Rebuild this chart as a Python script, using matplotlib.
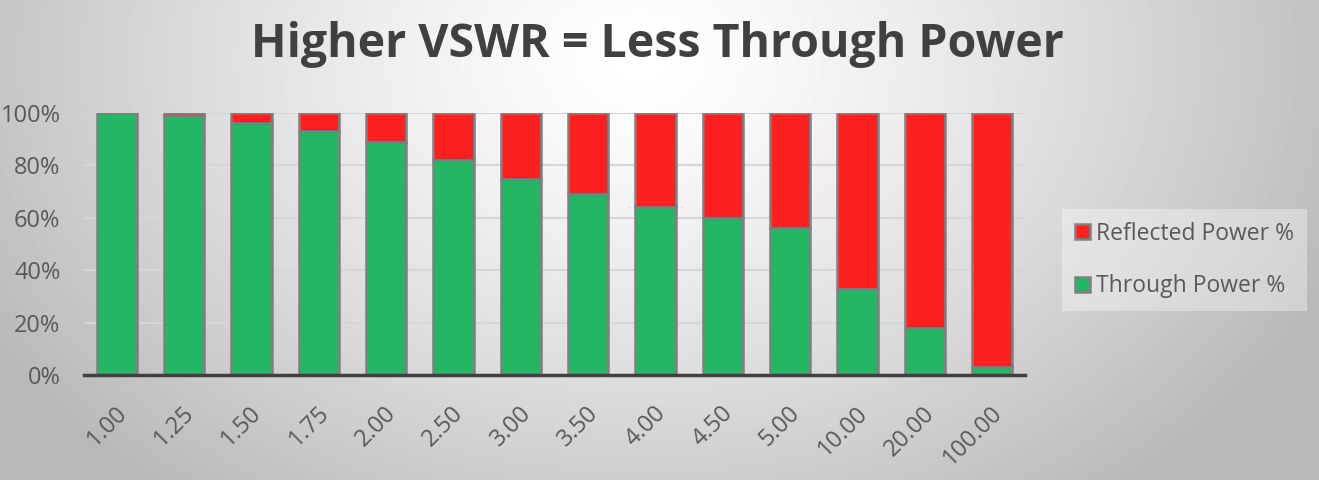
import numpy as np
import matplotlib
matplotlib.use("Agg")
import matplotlib.pyplot as plt
import matplotlib.transforms as mtransforms
from matplotlib.ticker import PercentFormatter

plt.rcParams['font.family'] = ['Open Sans', 'DejaVu Sans']

vswr_labels = ["1.00", "1.25", "1.50", "1.75", "2.00", "2.50", "3.00",
               "3.50", "4.00", "4.50", "5.00", "10.00", "20.00", "100.00"]
through_pct = [100, 99, 96, 93, 89, 82, 75, 69, 64, 60, 56, 33, 18, 3]
reflected_pct = [0, 1, 4, 7, 11, 18, 25, 31, 36, 40, 44, 67, 82, 97]

green = '#24b664'
red = '#fd2020'
edge = '#7f7f7f'
text_col = '#595959'

fig = plt.figure(figsize=(13.19, 4.8), dpi=100)

# radial grey background, lightest at the top middle
bg = fig.add_axes([0, 0, 1, 1], zorder=-10)
yy, xx = np.mgrid[0:480, 0:1319]
r = np.sqrt(((xx - 640) / 760.0) ** 2 + ((yy - 60) / 560.0) ** 2)
shade = np.clip(1.0 - 0.28 * r ** 1.3, 0.72, 1.0)
bg.imshow(shade, cmap='gray', vmin=0, vmax=1, aspect='auto',
          extent=(0, 1, 0, 1), origin='upper')
bg.set_axis_off()

ax = fig.add_axes([84 / 1319, 105 / 480, 941 / 1319, 262 / 480])
ax.patch.set_alpha(0)

x = np.arange(len(vswr_labels))
through = np.array(through_pct) / 100.0
reflected = np.array(reflected_pct) / 100.0

ax.bar(x, through, width=0.6, color=green, edgecolor=edge, linewidth=1.8,
       label='Through Power %', zorder=3)
ax.bar(x, reflected, width=0.6, bottom=through, color=red, edgecolor=edge,
       linewidth=1.8, label='Reflected Power %', zorder=3)

ax.set_xlim(-0.49, len(vswr_labels) - 0.51)
ax.set_ylim(0, 1)
ax.set_yticks(np.linspace(0, 1, 6))
ax.yaxis.set_major_formatter(PercentFormatter(1.0, decimals=0))
ax.grid(axis='y', color='#d6d6d6', linewidth=1.5, zorder=0)
ax.set_xticks(x)
ax.set_xticklabels(vswr_labels, rotation=45, ha='right',
                   rotation_mode='anchor')
ax.tick_params(axis='both', length=0, colors=text_col)
ax.tick_params(axis='y', pad=17, labelsize=17)
ax.tick_params(axis='x', pad=19, labelsize=17)
shift = mtransforms.ScaledTranslation(-2 / 100, 0, fig.dpi_scale_trans)
for lbl in ax.get_xticklabels():
    lbl.set_transform(lbl.get_transform() + shift)

for s in ['top', 'right', 'left']:
    ax.spines[s].set_visible(False)
ax.spines['bottom'].set_color('#404040')
ax.spines['bottom'].set_linewidth(2.5)
ax.spines['bottom'].set_zorder(5)

fig.text(657 / 1319, 1 - 45 / 480, 'Higher VSWR = Less Through Power',
         ha='center', va='center', fontsize=33.5, fontweight='bold',
         color='#404040')

handles, labels = ax.get_legend_handles_labels()
leg = fig.legend(handles[::-1], labels[::-1], loc='center left',
                 bbox_to_anchor=(1062 / 1319, 1 - 260 / 480), fontsize=16.5,
                 frameon=True, fancybox=False, handlelength=0.65,
                 handleheight=0.65, handletextpad=0.3, labelspacing=1.25,
                 borderpad=0.55, borderaxespad=0)
leg.get_frame().set_facecolor('white')
leg.get_frame().set_edgecolor('none')
leg.get_frame().set_alpha(0.35)
for t in leg.get_texts():
    t.set_color(text_col)

fig.savefig('out.png', dpi=100)
